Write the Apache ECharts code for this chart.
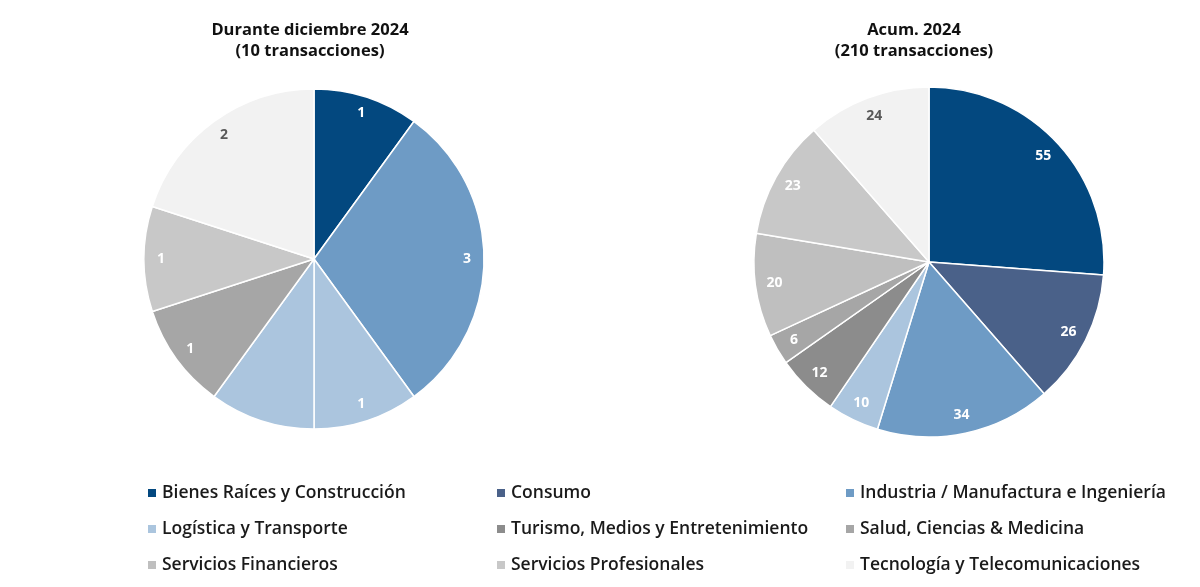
<!DOCTYPE html>
<html>
<head>
<meta charset="utf-8">
<script src="https://cdn.jsdelivr.net/npm/echarts@6/dist/echarts.min.js"></script>
<style>
  html, body { margin: 0; padding: 0; background: #fff; }
  #chart { width: 1200px; height: 587px; }
</style>
</head>
<body>
<div id="chart"></div>
<script>
// sectors, in legend order
const categories = [
  "Bienes Raíces y Construcción",
  "Consumo",
  "Industria / Manufactura e Ingeniería",
  "Logística y Transporte",
  "Turismo, Medios y Entretenimiento",
  "Salud, Ciencias & Medicina",
  "Servicios Financieros",
  "Servicios Profesionales",
  "Tecnología y Telecomunicaciones",
];

// Acum. 2024 (210 transacciones)
const rightValues = [55, 26, 34, 10, 12, 6, 20, 23, 24];

// Durante diciembre 2024 (10 transacciones) - slices as drawn, clockwise from the top
const leftSlices = [
  "Bienes Raíces y Construcción",
  "Industria / Manufactura e Ingeniería",
  "Logística y Transporte",
  "Logística y Transporte",
  "Salud, Ciencias & Medicina",
  "Servicios Profesionales",
  "Tecnología y Telecomunicaciones",
];
const leftValues = [1, 3, 1, 1, 1, 1, 2];
const leftLabelShown = [true, true, true, false, true, true, true];

const palette = {
  "Bienes Raíces y Construcción": "#03487f",
  "Consumo": "#4a6189",
  "Industria / Manufactura e Ingeniería": "#6e9bc5",
  "Logística y Transporte": "#abc5de",
  "Turismo, Medios y Entretenimiento": "#8c8c8c",
  "Salud, Ciencias & Medicina": "#a6a6a6",
  "Servicios Financieros": "#bfbfbf",
  "Servicios Profesionales": "#c8c8c8",
  "Tecnología y Telecomunicaciones": "#f2f2f2",
};
const labelColor = (name) =>
  name === "Tecnología y Telecomunicaciones" ? "#595959" : "#ffffff";

const chart = echarts.init(document.getElementById("chart"));

const pieBase = {
  type: "pie",
  startAngle: 90,
  clockwise: true,
  avoidLabelOverlap: false,
  animation: false,
  labelLine: { show: false },
  emphasis: { disabled: true },
};

const mainData = (names, values) =>
  names.map((n, i) => ({
    name: n,
    value: values[i],
    itemStyle: { color: palette[n], borderColor: "#fff", borderWidth: 1.5 },
  }));

const labelData = (names, values, shown) =>
  names.map((n, i) => ({
    name: n,
    value: values[i],
    label: { show: shown ? shown[i] : true, color: labelColor(n) },
  }));

const labelStyle = {
  show: true,
  position: "inside",
  formatter: "{c}",
  fontFamily: "Open Sans",
  fontWeight: "bold",
  fontSize: 14,
};

const legendCol = (left, names) => ({
  orient: "vertical",
  left: left,
  top: 478,
  itemWidth: 10,
  itemHeight: 10,
  itemGap: 16,
  icon: "rect",
  selectedMode: false,
  data: names,
  textStyle: {
    fontFamily: "Open Sans",
    fontWeight: 600,
    fontSize: 17.5,
    lineHeight: 20,
    color: "#1a1a1a",
  },
});

const titleStyle = {
  fontFamily: "Open Sans",
  fontWeight: "bold",
  fontSize: 16.5,
  lineHeight: 21,
  color: "#111",
};

chart.setOption({
  title: [
    {
      text: "Durante diciembre 2024\n(10 transacciones)",
      left: 305,
      top: 15,
      textAlign: "center",
      textStyle: titleStyle,
    },
    {
      text: "Acum. 2024\n(210 transacciones)",
      left: 909,
      top: 15,
      textAlign: "center",
      textStyle: titleStyle,
    },
  ],
  legend: [
    legendCol(141, [categories[0], categories[3], categories[6]]),
    legendCol(490, [categories[1], categories[4], categories[7]]),
    legendCol(839, [categories[2], categories[5], categories[8]]),
  ],
  series: [
    {
      ...pieBase,
      name: "diciembre",
      center: [314, 259],
      radius: [0, 170],
      label: { show: false },
      data: mainData(leftSlices, leftValues),
    },
    {
      ...pieBase,
      name: "acumulado",
      center: [929, 262],
      radius: [0, 175],
      label: { show: false },
      data: mainData(categories, rightValues),
    },
    // label rings: put the values near the outer edge of each slice
    {
      ...pieBase,
      silent: true,
      center: [314, 259],
      radius: [130, 170],
      itemStyle: { color: "transparent", borderWidth: 0 },
      label: labelStyle,
      data: labelData(leftSlices, leftValues, leftLabelShown),
    },
    {
      ...pieBase,
      silent: true,
      center: [929, 262],
      radius: [131, 175],
      itemStyle: { color: "transparent", borderWidth: 0 },
      label: labelStyle,
      data: labelData(categories, rightValues),
    },
  ],
});
</script>
</body>
</html>
